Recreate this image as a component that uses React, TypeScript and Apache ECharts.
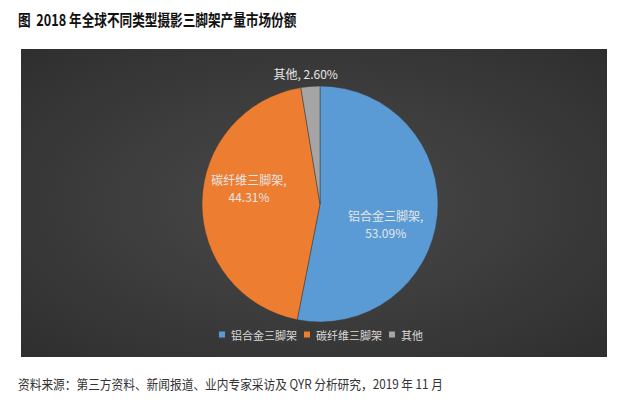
import React, { useEffect, useRef } from "react";
import * as echarts from "echarts";

const categories = ["铝合金三脚架", "碳纤维三脚架", "其他"];
const shares = [53.09, 44.31, 2.6];
const colors = ["#5B9BD5", "#ED7D31", "#A5A5A5"];
const titleText = "图  2018 年全球不同类型摄影三脚架产量市场份额";
const sourceText = "资料来源：第三方资料、新闻报道、业内专家采访及 QYR 分析研究，2019 年 11 月";

export default function App() {
  const ref = useRef<HTMLDivElement>(null);
  useEffect(() => {
    document.body.style.margin = "0";
    const chart = echarts.init(ref.current!, null, { renderer: "svg" });
    const font = '"Noto Sans CJK SC", "Microsoft YaHei", sans-serif';
    const fmt = (p: any) => `${p.name},\n${Number(p.value).toFixed(2)}%`;
    const labelCfg = [
      { show: true, position: "inside", formatter: fmt, offset: [4, 14] },
      { show: true, position: "inside", formatter: fmt, offset: [-9, -15] },
      {
        show: true,
        position: "outside",
        formatter: (p: any) => `${p.name}, ${Number(p.value).toFixed(2)}%`,
        offset: [33, -7],
      },
    ];
    chart.setOption({
      animation: false,
      backgroundColor: "#ffffff",
      graphic: [
        {
          type: "rect",
          shape: { x: 21, y: 49, width: 586, height: 308 },
          style: {
            fill: {
              type: "radial",
              x: 0.5,
              y: 0.5,
              r: 0.7,
              colorStops: [
                { offset: 0, color: "#4a4a4a" },
                { offset: 1, color: "#2f2f2f" },
              ],
            },
          },
          z: -10,
        },
        {
          type: "text",
          x: 18,
          y: 19,
          scaleX: 0.79,
          style: {
            text: titleText,
            font: `bold 16px ${font}`,
            fill: "#111111",
            verticalAlign: "middle",
          },
        },
        {
          type: "text",
          x: 18,
          y: 384,
          scaleX: 0.9,
          style: {
            text: sourceText,
            font: `13px ${font}`,
            fill: "#333333",
            verticalAlign: "middle",
          },
        },
      ],
      legend: {
        bottom: 65,
        left: "center",
        itemWidth: 8,
        itemHeight: 8,
        itemGap: 5,
        icon: "rect",
        textStyle: { color: "#d9d9d9", fontSize: 11, fontFamily: font },
        data: categories,
      },
      series: [
        {
          type: "pie",
          center: [320, 204],
          radius: 118,
          startAngle: 90,
          clockwise: true,
          labelLine: { show: false, length: 6, length2: 0 },
          itemStyle: { borderColor: "#3a3a3a", borderWidth: 0.5 },
          data: categories.map((name, i) => ({
            name,
            value: shares[i],
            itemStyle: { color: colors[i] },
            label: {
              ...labelCfg[i],
              color: "#e6e6e6",
              fontSize: 12,
              fontFamily: font,
              lineHeight: 17,
            },
          })),
        },
      ],
    });
    return () => chart.dispose();
  }, []);
  return (
    <div
      ref={ref}
      style={{ position: "absolute", left: 0, top: 0, width: 640, height: 410 }}
    />
  );
}
